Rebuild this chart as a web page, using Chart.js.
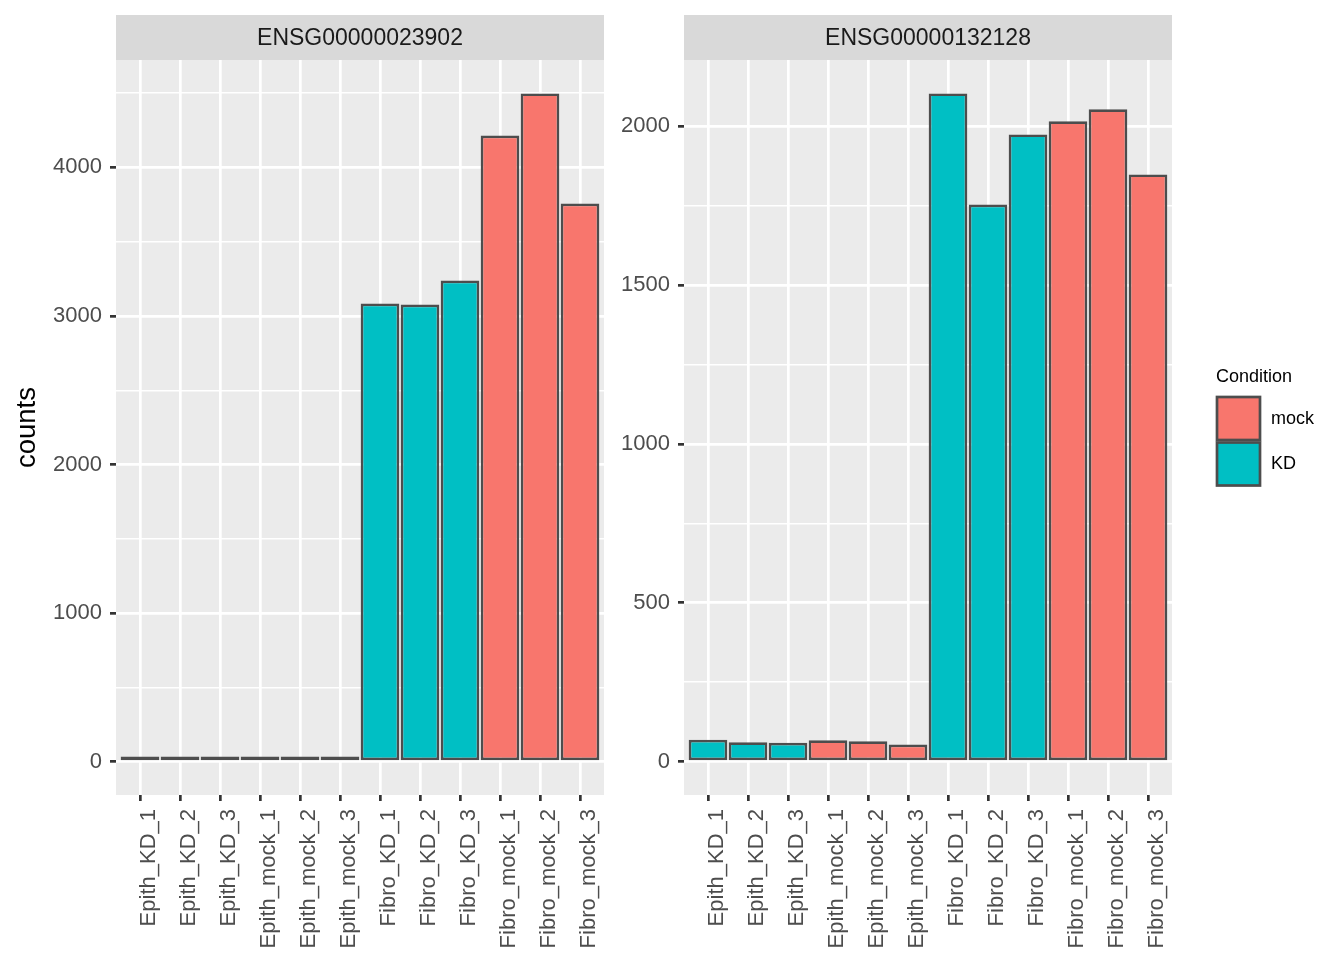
<!DOCTYPE html>
<html>
<head>
<meta charset="utf-8">
<title>counts per sample</title>
<script src="https://cdn.jsdelivr.net/npm/chart.js@4.4.1/dist/chart.umd.min.js"></script>
<style>
  html, body { margin: 0; padding: 0; background: #fff; }
  #wrap { position: relative; width: 1344px; height: 960px; overflow: hidden; }
  canvas { position: absolute; top: 0; }
  #left { left: 0; }
  #right { left: 615px; }
</style>
</head>
<body>
<div id="wrap">
  <canvas id="left" width="615" height="960"></canvas>
  <canvas id="right" width="729" height="960"></canvas>
</div>
<script>
// Data
const samples = ['Epith_KD_1', 'Epith_KD_2', 'Epith_KD_3', 'Epith_mock_1', 'Epith_mock_2', 'Epith_mock_3',
                 'Fibro_KD_1', 'Fibro_KD_2', 'Fibro_KD_3', 'Fibro_mock_1', 'Fibro_mock_2', 'Fibro_mock_3'];
const condition = ['KD', 'KD', 'KD', 'mock', 'mock', 'mock', 'KD', 'KD', 'KD', 'mock', 'mock', 'mock'];
const genes = ['ENSG00000023902', 'ENSG00000132128'];
const countsGene1 = [25, 18, 15, 22, 29, 27, 3084, 3077, 3239, 4215, 4498, 3757];
const countsGene2 = [69, 61, 59, 67, 64, 54, 2104, 1754, 1975, 2016, 2054, 1849];
const ticksGene1 = [0, 1000, 2000, 3000, 4000];
const minorGene1 = [500, 1500, 2500, 3500, 4500];
const ticksGene2 = [0, 500, 1000, 1500, 2000];
const minorGene2 = [250, 750, 1250, 1750];
const legendLabels = ['mock', 'KD'];

const fills = { mock: '#F8766D', KD: '#00BFC4' };
const FONT = '"Liberation Sans", Arial, sans-serif';

Chart.defaults.font.family = FONT;

// grey panel + facet strip
const panelPlugin = {
  id: 'panel',
  beforeDraw(chart, args, opts) {
    const { ctx, chartArea: a } = chart;
    ctx.save();
    ctx.fillStyle = '#EBEBEB';
    ctx.fillRect(a.left, a.top, a.right - a.left, a.bottom - a.top);
    ctx.fillStyle = '#D9D9D9';
    ctx.fillRect(a.left, 15, a.right - a.left, a.top - 15);
    ctx.fillStyle = '#1A1A1A';
    ctx.font = '23px ' + FONT;
    ctx.textAlign = 'center';
    ctx.textBaseline = 'middle';
    ctx.fillText(opts.label, (a.left + a.right) / 2, (15 + a.top) / 2 + 1);
    ctx.restore();
  }
};

// legend on the right
const keyPlugin = {
  id: 'keyBox',
  afterDraw(chart, args, opts) {
    const { ctx } = chart;
    const x0 = opts.x;
    ctx.save();
    ctx.font = '18px ' + FONT;
    ctx.fillStyle = '#000';
    ctx.textAlign = 'left';
    ctx.textBaseline = 'middle';
    ctx.fillText('Condition', x0, 377);
    chart.data.datasets.forEach((ds, i) => {
      const y = 397 + i * 45.5;
      ctx.fillStyle = ds.backgroundColor;
      ctx.fillRect(x0 + 1, y, 43, 43);
      ctx.strokeStyle = ds.borderColor;
      ctx.lineWidth = 2.7;
      ctx.strokeRect(x0 + 1, y, 43, 43);
      ctx.fillStyle = '#000';
      ctx.fillText(ds.label, x0 + 55, y + 22);
    });
    ctx.restore();
  }
};

function datasetsFor(counts) {
  return legendLabels.map(cond => ({
    label: cond,
    data: samples.map((s, i) => ({ x: i, y: counts[i] })).filter(p => condition[p.x] === cond),
    backgroundColor: fills[cond],
    borderColor: '#4D4D4D',
    borderWidth: 2.7,
    borderSkipped: false,
    minBarLength: 5,
    grouped: false,
    categoryPercentage: 0.967,
    barPercentage: 1
  }));
}

function makeChart(id, gene, counts, major, minor, yWidth, padRight, showTitle, extraPlugins, pluginOpts) {
  const top = Math.max(...counts);
  return new Chart(document.getElementById(id), {
    type: 'bar',
    data: { datasets: datasetsFor(counts) },
    plugins: [panelPlugin].concat(extraPlugins),
    options: {
      responsive: false,
      animation: false,
      layout: { padding: { top: 60, right: padRight, left: 0, bottom: 0 } },
      plugins: Object.assign({
        legend: { display: false },
        tooltip: { enabled: false },
        panel: { label: gene }
      }, pluginOpts),
      scales: {
        x: {
          type: 'linear',
          min: -0.6,
          max: samples.length - 0.4,
          offset: false,
          border: { display: false },
          grid: { color: '#FFFFFF', lineWidth: 2.7, offset: false, tickColor: '#333333', tickLength: 6 },
          afterBuildTicks: s => { s.ticks = samples.map((_, i) => ({ value: i })); },
          afterFit: s => { s.height = 165; },
          ticks: {
            autoSkip: false,
            minRotation: 90,
            maxRotation: 90,
            padding: 8,
            labelOffset: 9,
            color: '#4D4D4D',
            font: { size: 22 },
            callback: v => samples[v] ?? ''
          }
        },
        y: {
          type: 'linear',
          min: -0.05 * top,
          max: 1.05 * top,
          border: { display: false },
          grid: {
            color: '#FFFFFF',
            lineWidth: c => (major.includes(c.tick.value) ? 2.7 : 1.4),
            tickColor: c => (major.includes(c.tick.value) ? '#333333' : 'rgba(0,0,0,0)'),
            tickLength: 6
          },
          afterBuildTicks: s => {
            s.ticks = major.concat(minor).sort((a, b) => a - b).map(v => ({ value: v }));
          },
          afterFit: s => { s.width = yWidth; },
          title: {
            display: showTitle,
            text: 'counts',
            color: '#000000',
            font: { size: 27.5 },
            padding: { top: 11, bottom: 0 }
          },
          ticks: {
            padding: 8,
            color: '#4D4D4D',
            font: { size: 22 },
            callback: v => (major.includes(v) ? String(v) : '')
          }
        }
      }
    }
  });
}

makeChart('left', genes[0], countsGene1, ticksGene1, minorGene1, 116, 11, true, [], {});
makeChart('right', genes[1], countsGene2, ticksGene2, minorGene2, 69, 172, false, [keyPlugin], { keyBox: { x: 1216 - 615 } });
</script>
</body>
</html>
